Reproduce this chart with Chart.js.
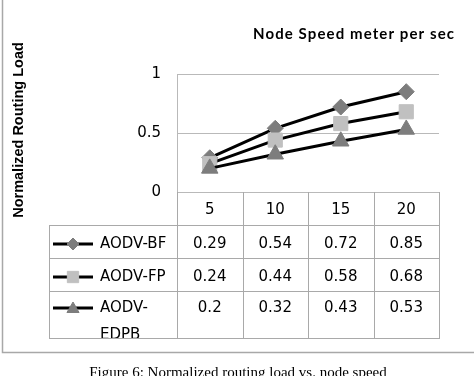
<!DOCTYPE html>
<html><head><meta charset="utf-8">
<script src="https://cdn.jsdelivr.net/npm/chart.js@4/dist/chart.umd.min.js"></script>
<style>html,body{margin:0;padding:0;background:#fff;}#wrap{width:474px;height:376px;position:relative;overflow:hidden}</style>
</head><body><div id="wrap"><canvas id="c" width="474" height="376"></canvas></div>
<script>
// ---- data ----
const categories = ['5', '10', '15', '20'];
const seriesNames = ['AODV-BF', 'AODV-FP', 'AODV-EDPB'];
const bfValues = [0.29, 0.54, 0.72, 0.85];
const fpValues = [0.24, 0.44, 0.58, 0.68];
const edpbValues = [0.2, 0.32, 0.43, 0.53];
const yTickValues = [0, 0.5, 1];
const chartTitle = 'Node Speed meter per sec';
const yAxisTitle = 'Normalized Routing Load';
const captionText = 'Figure 6: Normalized routing load vs. node speed';

// ---- styles ----
const seriesValues = [bfValues, fpValues, edpbValues];
const markerStyles = [
  { pointStyle: 'rectRot', radius: 8, legendRadius: 6, color: '#7d7d7d' },
  { pointStyle: 'rect', radius: 10, legendRadius: 8, color: '#c0c0c0' },
  { pointStyle: 'triangle', radius: 9.5, legendRadius: 7, color: '#7d7d7d' }
];
const gridColor = '#b9b9b9';
const tableColor = '#a9a9a9';
const tableFont = '15px "DejaVu Sans"';

function fillSpaced(ctx, text, x, y, spacing) {
  if ('letterSpacing' in ctx) {
    ctx.letterSpacing = spacing + 'px';
    ctx.fillText(text, x, y);
    ctx.letterSpacing = '0px';
  } else {
    ctx.fillText(text, x, y);
  }
}

const tablePlugin = {
  id: 'tablePlugin',
  afterDraw(chart) {
    const ctx = chart.ctx;
    const ca = chart.chartArea;
    const xs = chart.scales.x;
    const n = categories.length;
    const colW = ca.width / n;
    const tblLeft = 49;
    const headerTop = ca.bottom;
    const rowTops = [225, 258, 291];
    const tblBottom = 338;
    const textOffsets = [19, 19, 17];
    ctx.save();

    // frame
    ctx.strokeStyle = '#a8a8a8';
    ctx.lineWidth = 1.5;
    ctx.beginPath();
    ctx.moveTo(2.5, 0); ctx.lineTo(2.5, 352.5); ctx.lineTo(474, 352.5);
    ctx.stroke();

    // table lines
    ctx.strokeStyle = tableColor;
    ctx.lineWidth = 1;
    ctx.beginPath();
    for (let k = 0; k <= n; k++) {
      const x = Math.round(ca.left + k * colW) + 0.5;
      ctx.moveTo(x, headerTop); ctx.lineTo(x, tblBottom + 0.5);
    }
    ctx.moveTo(tblLeft + 0.5, rowTops[0]); ctx.lineTo(tblLeft + 0.5, tblBottom + 0.5);
    [...rowTops, tblBottom].forEach(y => {
      ctx.moveTo(tblLeft, y + 0.5); ctx.lineTo(Math.round(ca.right) + 1, y + 0.5);
    });
    ctx.stroke();

    // header
    ctx.fillStyle = '#000';
    ctx.font = tableFont;
    ctx.textAlign = 'center';
    ctx.textBaseline = 'middle';
    categories.forEach((c, i) => ctx.fillText(c, xs.getPixelForValue(i), 210));

    // rows
    seriesNames.forEach((name, r) => {
      const ty = rowTops[r] + textOffsets[r];
      const st = markerStyles[r];
      // legend key
      ctx.strokeStyle = '#000';
      ctx.lineWidth = 3;
      ctx.beginPath(); ctx.moveTo(53, ty); ctx.lineTo(93, ty); ctx.stroke();
      ctx.fillStyle = st.color; ctx.strokeStyle = st.color; ctx.lineWidth = 1;
      Chart.helpers.drawPoint(ctx, { pointStyle: st.pointStyle, radius: st.legendRadius, rotation: 0, borderWidth: 1 }, 73, ty + (st.pointStyle === 'triangle' ? 1 : 0));
      // label (wrapped, clipped to the cell)
      ctx.save();
      ctx.beginPath();
      ctx.rect(tblLeft, rowTops[r], ca.left - tblLeft, (rowTops[r + 1] || tblBottom) - rowTops[r]);
      ctx.clip();
      ctx.fillStyle = '#000';
      ctx.font = tableFont;
      ctx.textAlign = 'left';
      ctx.textBaseline = 'middle';
      const avail = ca.left - 100 - 2;
      let lines = [name];
      if (ctx.measureText(name).width > avail && name.indexOf('-') >= 0) {
        const p = name.indexOf('-') + 1;
        lines = [name.slice(0, p), name.slice(p)];
      }
      lines.forEach((ln, li) => ctx.fillText(ln, 100, ty + li * 27.5));
      ctx.restore();
      // values
      ctx.fillStyle = '#000';
      ctx.font = tableFont;
      ctx.textAlign = 'center';
      ctx.textBaseline = 'middle';
      seriesValues[r].forEach((v, i) => ctx.fillText(String(v), xs.getPixelForValue(i), ty));
    });

    // chart title
    ctx.fillStyle = '#000';
    ctx.font = 'bold 15px Lato';
    ctx.textAlign = 'left';
    ctx.textBaseline = 'alphabetic';
    fillSpaced(ctx, chartTitle, 253, 39, 1.1);

    // y-axis title
    ctx.save();
    ctx.translate(23, 130);
    ctx.rotate(-Math.PI / 2);
    ctx.font = 'bold 14.5px "Liberation Sans"';
    ctx.textAlign = 'center';
    ctx.textBaseline = 'alphabetic';
    ctx.fillText(yAxisTitle, 0, 0);
    ctx.restore();

    // caption
    ctx.font = '15px "Liberation Serif"';
    ctx.textAlign = 'center';
    ctx.fillText(captionText, 238, 377);
    ctx.restore();
  }
};

new Chart(document.getElementById('c'), {
  type: 'line',
  data: {
    labels: categories,
    datasets: seriesValues.map((vals, i) => ({
      label: seriesNames[i],
      data: vals,
      borderColor: '#000',
      borderWidth: 3,
      tension: 0,
      fill: false,
      pointStyle: markerStyles[i].pointStyle,
      pointRadius: markerStyles[i].radius,
      pointBackgroundColor: markerStyles[i].color,
      pointBorderColor: markerStyles[i].color,
      pointBorderWidth: 1,
      order: seriesValues.length - 1 - i
    }))
  },
  options: {
    responsive: false,
    animation: false,
    devicePixelRatio: 1,
    layout: { padding: { left: 0, top: 74, right: 35, bottom: 184 } },
    plugins: { legend: { display: false }, title: { display: false }, tooltip: { enabled: false } },
    scales: {
      x: { type: 'category', display: false, offset: true },
      y: {
        min: 0, max: 1,
        afterFit(s) { s.width = 177; },
        afterBuildTicks(s) { s.ticks = yTickValues.map(v => ({ value: v })); },
        ticks: { padding: 16, color: '#000', font: { family: 'DejaVu Sans', size: 15 }, callback: v => String(v) },
        grid: { color: gridColor, drawTicks: false, lineWidth: 1 },
        border: { display: true, color: gridColor }
      }
    }
  },
  plugins: [tablePlugin]
});
</script>
</body></html>
